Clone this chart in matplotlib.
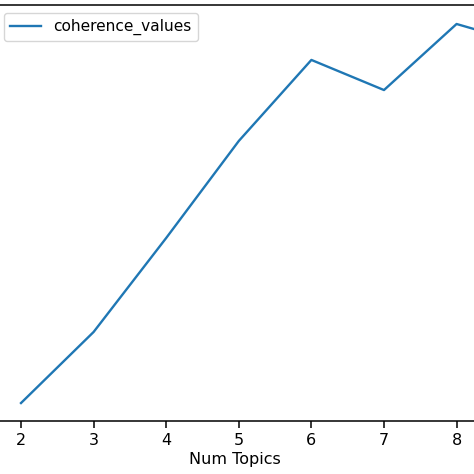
import matplotlib
matplotlib.use('Agg')
import matplotlib.pyplot as plt

# coherence score per topic count (the chart is cropped, so only 2..8 are labelled)
numTopics = [2, 3, 4, 5, 6, 7, 8, 9]
coherenceValues = [0.2808, 0.3235, 0.3800, 0.4383, 0.4870, 0.4689, 0.5086, 0.4960]
xTicks = [2, 3, 4, 5, 6, 7, 8]

plt.rcParams['font.size'] = 11.5

fig = plt.figure(figsize=(4.74, 4.74), dpi=100)
# axes run slightly past the figure edges, like the cropped original
ax = fig.add_axes([-0.0076, 0.1118, 1.0076, 0.8776])

ax.plot(numTopics, coherenceValues, color='#1f77b4', linewidth=1.7, label='coherence_values')

ax.set_xlim(1.661, 8.240)
ax.set_ylim(0.27, 0.52)
ax.set_xticks(xTicks)
ax.set_yticks([])
ax.spines['left'].set_visible(False)
ax.spines['right'].set_visible(False)
for side in ['top', 'bottom']:
    ax.spines[side].set_linewidth(1.1)
ax.tick_params(axis='x', length=5, width=1.1)
ax.set_xlabel('Num Topics', labelpad=3)
ax.legend(loc='upper left', fontsize=11.1)

fig.savefig('out.png', dpi=100)
plt.close(fig)
